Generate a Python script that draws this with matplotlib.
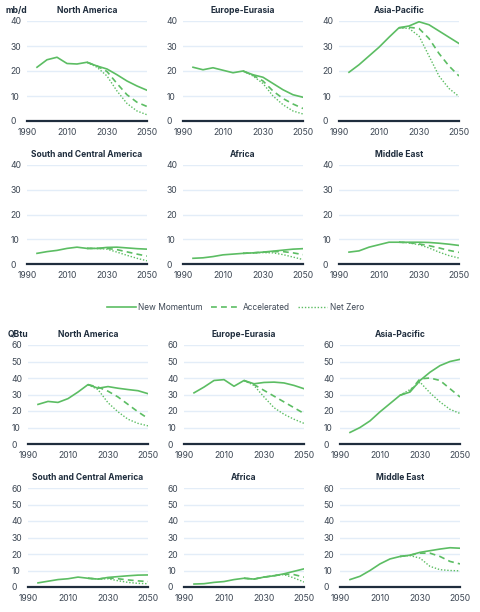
import matplotlib.pyplot as plt
from matplotlib.lines import Line2D

plt.rcParams['font.family'] = ['Inter', 'DejaVu Sans']

years = [1995, 2000, 2005, 2010, 2015, 2020, 2025, 2030, 2035, 2040, 2045, 2050]
regions = ['North America', 'Europe-Eurasia', 'Asia-Pacific',
           'South and Central America', 'Africa', 'Middle East']

# oil, mb/d  (scenarios branch off the history after 2020)
oil_nm = {
    'North America': [21.5, 24.5, 25.5, 23, 22.8, 23.5, 22, 20.8, 18.5, 16, 14, 12.3],
    'Europe-Eurasia': [21.5, 20.5, 21.3, 20.3, 19.3, 20, 18.5, 17.5, 15, 12.5, 10.5, 9.5],
    'Asia-Pacific': [19.5, 22.5, 26, 29.5, 33.5, 37.3, 38, 39.7, 38.5, 36, 33.5, 31],
    'South and Central America': [4.3, 5, 5.5, 6.3, 6.8, 6.3, 6.3, 6.7, 6.8, 6.5, 6.2, 6],
    'Africa': [2.3, 2.5, 3, 3.7, 4, 4.3, 4.5, 4.8, 5.2, 5.6, 6, 6.2],
    'Middle East': [4.8, 5.3, 6.8, 7.8, 8.8, 8.8, 8.8, 8.8, 8.7, 8.4, 8, 7.5],
}
oil_acc = {
    'North America': [23.5, 22, 19.8, 15, 10.5, 7.5, 5.8],
    'Europe-Eurasia': [20, 18.3, 16, 12, 9, 6.8, 5],
    'Asia-Pacific': [37.3, 37.5, 37, 33, 27, 22, 18],
    'South and Central America': [6.3, 6.3, 6.3, 5.8, 4.9, 4, 3.2],
    'Africa': [4.3, 4.5, 4.8, 5, 5, 4.5, 3.8],
    'Middle East': [8.8, 8.6, 8.1, 7.4, 6.5, 5.5, 4.7],
}
oil_nz = {
    'North America': [23.5, 21.5, 18, 12, 7, 4, 2.5],
    'Europe-Eurasia': [20, 18, 15, 10, 6.5, 4, 2.8],
    'Asia-Pacific': [37.3, 37, 34, 26, 18, 13, 9.8],
    'South and Central America': [6.3, 6.3, 6, 4.8, 3.5, 2.3, 1.3],
    'Africa': [4.3, 4.5, 4.6, 4.5, 3.8, 2.8, 1.8],
    'Middle East': [8.8, 8.5, 7.8, 6.5, 4.8, 3.4, 2.4],
}

# energy, QBtu
qbtu_nm = {
    'North America': [24, 25.8, 25.2, 27.5, 31.5, 36, 33.8, 34.8, 33.8, 33, 32.3, 30.5],
    'Europe-Eurasia': [31, 34.5, 38.5, 39, 35, 38.5, 36.5, 37.3, 37.5, 37, 35.5, 33.5],
    'Asia-Pacific': [7, 10, 14, 19.5, 24.5, 29.5, 31.5, 38.5, 43.5, 47.5, 50, 51.3],
    'South and Central America': [2.5, 3.5, 4.5, 5, 6, 5.3, 4.8, 5.8, 6.3, 6.8, 7.2, 7.3],
    'Africa': [1.8, 2, 2.8, 3.3, 4.5, 5.3, 4.8, 6, 6.8, 8, 9.5, 11],
    'Middle East': [4.5, 6.5, 10, 14, 17, 18.5, 19.3, 21, 22, 23, 23.8, 23.5],
}
qbtu_acc = {
    'North America': [36, 34.5, 32, 28.5, 24, 19.5, 15.5],
    'Europe-Eurasia': [38.5, 36, 32.5, 29, 25.5, 22, 18.5],
    'Asia-Pacific': [29.5, 32, 39.5, 40, 38.5, 33.5, 28.5],
    'South and Central America': [5.3, 4.8, 5.5, 5, 4.3, 3.7, 3.3],
    'Africa': [5.3, 4.8, 6, 6.8, 7.8, 7.5, 6],
    'Middle East': [18.5, 19.3, 20.5, 20.5, 18.5, 15.5, 14],
}
qbtu_nz = {
    'North America': [36, 33, 25, 19.5, 15, 12.5, 11],
    'Europe-Eurasia': [38.5, 35.5, 28.5, 22, 18, 15, 12.5],
    'Asia-Pacific': [29.5, 33, 37.5, 31, 25.5, 21, 18.5],
    'South and Central America': [5.3, 4.8, 5, 3.8, 2.8, 2.2, 2],
    'Africa': [5.3, 4.8, 6, 7, 7.5, 5.5, 3],
    'Middle East': [18.5, 19, 17.5, 12.5, 10.5, 10, 9.8],
}

green = '#5cbd63'
navy = '#1f2d3d'
tick_col = '#3d4754'
grid_col = '#e3edf8'

W, H = 480, 612
fig = plt.figure(figsize=(4.8, 6.12), dpi=100)

col_x = [27, 183, 339]
ax_w = 120
row_y = [(21, 121), (165, 264), (345, 444), (488, 587)]


def panel(x0, top, bot, region, nm, acc, nz, ymax, ystep):
    ax = fig.add_axes([x0 / W, 1 - bot / H, ax_w / W, (bot - top) / H])
    ax.plot(years, nm[region], color=green, lw=1.2, zorder=3)
    ax.plot(years[5:], acc[region], color=green, lw=1.2, dashes=(3.5, 2.5), zorder=2)
    ax.plot(years[5:], nz[region], color=green, lw=1.0, dashes=(1, 1.3), zorder=2)
    ax.set_xlim(1990, 2050)
    ax.set_ylim(0, ymax)
    ax.set_xticks([1990, 2010, 2030, 2050])
    ax.set_yticks(range(0, ymax + 1, ystep))
    for v in range(ystep, ymax + 1, ystep):
        ax.axhline(v, color=grid_col, lw=1.0, zorder=0)
    ax.axhline(0, color=navy, lw=1.6, zorder=4, clip_on=False)
    for s in ax.spines.values():
        s.set_visible(False)
    ax.tick_params(length=0, labelsize=6.2, colors=tick_col)
    ax.tick_params(axis='y', pad=12)
    ax.tick_params(axis='x', pad=5)
    for lab in ax.get_yticklabels():
        lab.set_horizontalalignment('left')
    ax.text(0.5, 1.06, region, transform=ax.transAxes, ha='center', va='bottom',
            fontsize=6.1, fontweight='bold', color=navy)
    return ax


for r in range(2):
    for c in range(3):
        reg = regions[r * 3 + c]
        panel(col_x[c], row_y[r][0], row_y[r][1], reg, oil_nm, oil_acc, oil_nz, 40, 10)
        panel(col_x[c] + 1, row_y[r + 2][0], row_y[r + 2][1], reg,
              qbtu_nm, qbtu_acc, qbtu_nz, 60, 10)

fig.text(5 / W, 1 - 10 / H, 'mb/d', fontsize=6.1, fontweight='bold', color=navy, va='center')
fig.text(8 / W, 1 - 334 / H, 'QBtu', fontsize=6.1, fontweight='bold', color=navy, va='center')

handles = [Line2D([], [], color=green, lw=1.2),
           Line2D([], [], color=green, lw=1.2, dashes=(3.5, 2.5)),
           Line2D([], [], color=green, lw=1.0, dashes=(1, 1.3))]
leg = fig.legend(handles, ['New Momentum', 'Accelerated', 'Net Zero'],
                 loc='center', bbox_to_anchor=(0.49, 1 - 307 / H), ncol=3,
                 frameon=False, fontsize=6, handlelength=3.5, columnspacing=1.0,
                 handletextpad=0.3)
for t in leg.get_texts():
    t.set_color(tick_col)

fig.savefig('out.png', dpi=100)
